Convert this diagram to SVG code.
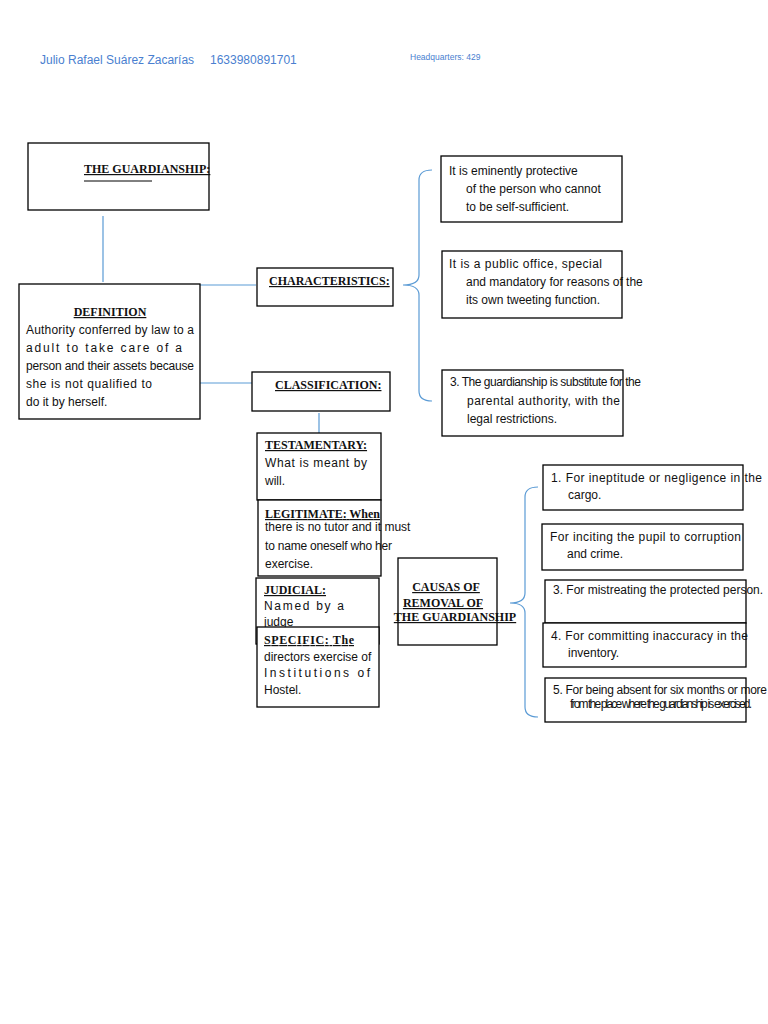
<svg xmlns="http://www.w3.org/2000/svg" width="768" height="1024" viewBox="0 0 768 1024">
<style>
.b{fill:#fff;stroke:#000;stroke-width:1.3}
.c{fill:none;stroke:#5b9bd5;stroke-width:1.2}
.s{font-family:"Liberation Sans",Arial,sans-serif;font-size:12px;fill:#111}
.h{font-family:"Liberation Serif","Times New Roman",serif;font-weight:bold;font-size:12px;fill:#111;text-decoration:underline}
.hb{font-family:"Liberation Sans",Arial,sans-serif;fill:#4a7fd0}
</style>
<rect width="768" height="1024" fill="#fff"/>
<text class="hb" x="40" y="64" font-size="12">Julio Rafael Suárez Zacarías</text>
<text class="hb" x="210" y="64" font-size="12">1633980891701</text>
<text class="hb" x="410" y="60" font-size="8.5">Headquarters: 429</text>
<g id="connectors">
<path class="c" d="M103 216V282M200 285H256M200 383H252M319 413V433"/>
<path class="c" d="M432 170Q419 170 419 180V275Q419 285 403 285Q419 285 419 295V391Q419 401 432 401"/>
<path class="c" d="M538 487Q525 487 525 497V593Q525 603 510 603Q525 603 525 613V707Q525 717 538 717"/>
</g>
<g id="guardianship"><rect class="b" x="28" y="143" width="181" height="67"/><text class="h" x="84" y="173" font-size="8" text-decoration="none">THE GUARDIANSHIP:</text><path d="M84 181H152" stroke="#000"/></g>
<g id="definition"><rect class="b" x="19" y="284" width="181" height="135"/><text class="h" x="110" y="316" font-size="13" text-anchor="middle">DEFINITION</text>
<text class="s" x="26" y="334" textLength="168">Authority conferred by law to a</text>
<text class="s" x="26" y="352" textLength="156">adult to take care of a</text>
<text class="s" x="26" y="370" textLength="168">person and their assets because</text>
<text class="s" x="26" y="388" textLength="126">she is not qualified to</text>
<text class="s" x="26" y="406">do it by herself.</text></g>
<g id="characteristics"><rect class="b" x="257" y="268" width="136" height="38"/><text class="h" x="269" y="285">CHARACTERISTICS:</text></g>
<g id="classification"><rect class="b" x="252" y="372" width="138" height="39"/><text class="h" x="275" y="389">CLASSIFICATION:</text></g>
<g id="testamentary"><rect class="b" x="257" y="433" width="124" height="67"/><text class="h" x="265" y="449">TESTAMENTARY:</text><text class="s" x="265" y="467" textLength="102">What is meant by</text><text class="s" x="265" y="485">will.</text></g>
<g id="legitimate"><rect class="b" x="258" y="500" width="123" height="76"/><text class="h" x="265" y="518" textLength="115">LEGITIMATE: When</text><text class="s" x="265" y="531" font-size="9">there is no tutor and it must</text><text class="s" x="265" y="550" font-size="10" textLength="127">to name oneself who her</text><text class="s" x="265" y="568">exercise.</text></g>
<g id="judicial"><rect class="b" x="256" y="578" width="123" height="66"/><text class="h" x="264" y="594">JUDICIAL:</text><text class="s" x="264" y="610" textLength="80">Named by a</text><text class="s" x="264" y="626">judge</text></g>
<g id="specific"><rect class="b" x="257" y="627" width="122" height="80"/><text class="h" x="264" y="644" textLength="90">SPECIFIC: The</text><text class="s" x="264" y="661">directors exercise of</text><text class="s" x="264" y="677" textLength="106">Institutions of</text><text class="s" x="264" y="694">Hostel.</text></g>
<g id="causas"><rect class="b" x="398" y="558" width="99" height="87"/><text class="h" x="446" y="591" text-anchor="middle">CAUSAS OF</text><text class="h" x="443" y="607" text-anchor="middle">REMOVAL OF</text><text class="h" x="455" y="621" font-size="8" text-anchor="middle">THE GUARDIANSHIP</text></g>
<g id="char1"><rect class="b" x="441" y="156" width="181" height="66"/><text class="s" x="449" y="175">It is eminently protective</text><text class="s" x="466" y="193">of the person who cannot</text><text class="s" x="466" y="211">to be self-sufficient.</text></g>
<g id="char2"><rect class="b" x="442" y="251" width="180" height="67"/><text class="s" x="449" y="268" textLength="153">It is a public office, special</text><text class="s" x="466" y="286">and mandatory for reasons of the</text><text class="s" x="466" y="304">its own tweeting function.</text></g>
<g id="char3"><rect class="b" x="442" y="370" width="181" height="66"/><text class="s" x="450" y="386" font-size="9.5" textLength="191">3. The guardianship is substitute for the</text><text class="s" x="467" y="405" textLength="153">parental authority, with the</text><text class="s" x="467" y="423">legal restrictions.</text></g>
<g id="cause1"><rect class="b" x="543" y="465" width="200" height="45"/><text class="s" x="551" y="482" textLength="211">1. For ineptitude or negligence in the</text><text class="s" x="568" y="499">cargo.</text></g>
<g id="cause2"><rect class="b" x="542" y="524" width="201" height="46"/><text class="s" x="550" y="541" textLength="191">For inciting the pupil to corruption</text><text class="s" x="567" y="558">and crime.</text></g>
<g id="cause3"><rect class="b" x="545" y="580" width="201" height="43"/><text class="s" x="553" y="594" font-size="9">3. For mistreating the protected person.</text></g>
<g id="cause4"><rect class="b" x="543" y="623" width="203" height="44"/><text class="s" x="551" y="640" textLength="197">4. For committing inaccuracy in the</text><text class="s" x="568" y="657">inventory.</text></g>
<g id="cause5"><rect class="b" x="545" y="678" width="201" height="44"/><text class="s" x="553" y="694" font-size="10.5" textLength="214">5. For being absent for six months or more</text><text class="s" x="570" y="708" font-size="8" textLength="182">from the place where the guardianship is exercised.</text></g>
</svg>
